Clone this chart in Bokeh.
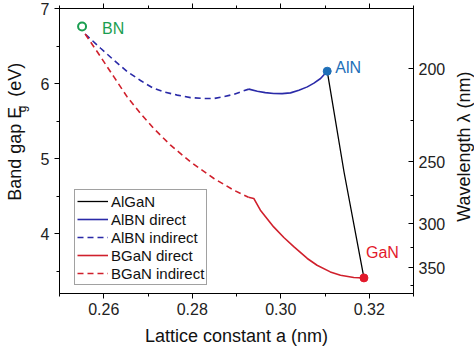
import math
from bokeh.plotting import figure
from bokeh.layouts import row
from bokeh.core.properties import value
from bokeh.models import (Range1d, LinearAxis, FixedTicker, SingleIntervalTicker,
                          NumeralTickFormatter, CustomJSTickFormatter, Legend,
                          LegendItem, Label)
from bokeh.embed import file_html
from bokeh.resources import INLINE

# ---------------- data ----------------
algan_a = [0.3105, 0.3143, 0.3188]
algan_eg = [6.164, 4.82, 3.408]

albn_dir_a = [0.2928, 0.2947, 0.2965, 0.2984, 0.3003, 0.3022, 0.3041, 0.3060, 0.3075, 0.3090, 0.3105]
albn_dir_eg = [5.925, 5.897, 5.878, 5.867, 5.865, 5.875, 5.910, 5.955, 6.005, 6.067, 6.164]

albn_ind_a = [0.2558, 0.2593, 0.2623, 0.2653, 0.2683, 0.2711, 0.2736, 0.2766, 0.2796,
              0.2826, 0.2849, 0.2871, 0.2894, 0.2909, 0.2928]
albn_ind_eg = [6.66, 6.47, 6.31, 6.16, 6.04, 5.94, 5.888, 5.845, 5.812,
               5.800, 5.800, 5.825, 5.855, 5.888, 5.925]

bgan_dir_a = [0.2927, 0.2939, 0.2954, 0.2984, 0.3007, 0.3030, 0.3060, 0.3082, 0.3112, 0.3135, 0.3165, 0.3188]
bgan_dir_eg = [4.484, 4.467, 4.311, 4.088, 3.947, 3.821, 3.667, 3.577, 3.488, 3.444, 3.413, 3.408]

bgan_ind_a = [0.2558, 0.2593, 0.2623, 0.2653, 0.2683, 0.2713, 0.2751, 0.2796, 0.2849, 0.2894, 0.2927]
bgan_ind_eg = [6.66, 6.355, 6.088, 5.821, 5.600, 5.400, 5.177, 4.955, 4.733, 4.577, 4.484]

bn_a, bn_eg = 0.2551, 6.76
aln_a, aln_eg = 0.3105, 6.164
gan_a, gan_eg = 0.3188, 3.408

wl_major = [200, 250, 300, 350]
wl_minor = [175, 225, 275, 325, 375]
HC = 1239.84

FONT = "Liberation Sans"
BLUE = "#2a2aa8"
RED = "#d0202c"
TXT = "#111111"

H = 350
LEFT_W = 33
RIGHT_W = 24
MAIN_W = 474 - LEFT_W - RIGHT_W

# ---------------- main figure ----------------
p = figure(width=MAIN_W, height=H, x_range=Range1d(0.25, 0.33), y_range=Range1d(3.2, 7.0),
           output_backend="svg", toolbar_location=None,
           min_border_left=26, min_border_right=37, min_border_top=8, min_border_bottom=57)
p.grid.visible = False
p.outline_line_color = "black"
p.outline_line_width = 1
p.background_fill_color = "white"
p.border_fill_color = "white"


def style(ax, inward=False):
    ax.axis_line_color = "black"
    ax.major_tick_line_color = "black"
    ax.minor_tick_line_color = "black"
    if inward:
        ax.major_tick_in, ax.major_tick_out = 5, 0
        ax.minor_tick_in, ax.minor_tick_out = 3, 0
    else:
        ax.major_tick_in, ax.major_tick_out = 0, 5
        ax.minor_tick_in, ax.minor_tick_out = 0, 3
    ax.major_label_text_font = FONT
    ax.major_label_text_font_size = "16px"
    ax.major_label_text_color = "#222222"
    ax.axis_label_text_font = FONT
    ax.axis_label_text_font_size = "18px"
    ax.axis_label_text_font_style = "normal"
    ax.axis_label_text_color = TXT


xa = p.xaxis[0]
xa.ticker = SingleIntervalTicker(interval=0.02, num_minor_ticks=2)
xa.formatter = NumeralTickFormatter(format="0.00")
xa.axis_label = "Lattice constant a (nm)"
style(xa)
xa.major_label_standoff = 4
xa.axis_label_standoff = 8

ya = p.yaxis[0]
ya.ticker = SingleIntervalTicker(interval=1, num_minor_ticks=2)
ya.formatter = NumeralTickFormatter(format="0")
style(ya)
ya.major_label_standoff = 5

top = LinearAxis(ticker=SingleIntervalTicker(interval=0.02, num_minor_ticks=2),
                 formatter=CustomJSTickFormatter(code="return ''"))
style(top)
top.major_label_text_font_size = "0px"
top.major_label_standoff = 0
p.add_layout(top, "above")

right = LinearAxis(ticker=FixedTicker(ticks=[HC / w for w in wl_major],
                                      minor_ticks=[HC / w for w in wl_minor]),
                   formatter=CustomJSTickFormatter(code="return (1239.84/tick).toFixed(0)"))
style(right, inward=True)
right.major_label_standoff = 5
p.add_layout(right, "right")

# ---------------- lines ----------------
r_algan = p.line(algan_a, algan_eg, line_color="black", line_width=1.3)
r_albn_d = p.line(albn_dir_a, albn_dir_eg, line_color=BLUE, line_width=1.6)
r_albn_i = p.line(albn_ind_a, albn_ind_eg, line_color=BLUE, line_width=1.6, line_dash="6 4")
r_bgan_d = p.line(bgan_dir_a, bgan_dir_eg, line_color=RED, line_width=1.6)
r_bgan_i = p.line(bgan_ind_a, bgan_ind_eg, line_color=RED, line_width=1.6, line_dash="6 4")

p.scatter([bn_a], [bn_eg], size=8, fill_color="white", line_color="#1a9e50", line_width=2)
p.scatter([aln_a], [aln_eg], size=8, fill_color="#1e6fb8", line_color="#1e6fb8")
p.scatter([gan_a], [gan_eg], size=8, fill_color="#e31a2c", line_color="#e31a2c")

p.add_layout(Label(x=bn_a, y=bn_eg, text="BN", x_offset=20, y_offset=-2, text_baseline="middle",
                   text_font=FONT, text_font_size="16px", text_color="#1a9e50"))
p.add_layout(Label(x=aln_a, y=aln_eg, text="AlN", x_offset=8, y_offset=4, text_baseline="middle",
                   text_font=FONT, text_font_size="16px", text_color="#1e6fb8"))
p.add_layout(Label(x=gan_a, y=gan_eg, text="GaN", x_offset=2, y_offset=25, text_baseline="middle",
                   text_font=FONT, text_font_size="16px", text_color="#e31a2c"))

# ---------------- legend ----------------
legend = Legend(items=[
    LegendItem(label="AlGaN", renderers=[r_algan]),
    LegendItem(label="AlBN direct", renderers=[r_albn_d]),
    LegendItem(label="AlBN indirect", renderers=[r_albn_i]),
    LegendItem(label="BGaN direct", renderers=[r_bgan_d]),
    LegendItem(label="BGaN indirect", renderers=[r_bgan_i]),
], location=(15, 8))
legend.border_line_color = "#444444"
legend.border_line_width = 1
legend.background_fill_alpha = 1
legend.label_text_font = FONT
legend.label_text_font_size = "15px"
legend.label_text_color = TXT
legend.glyph_width = 31
legend.glyph_height = 18
legend.label_height = 18
legend.label_standoff = 3
legend.spacing = 0
legend.padding = 2
legend.margin = 0
p.add_layout(legend)


# ---------------- side strips holding the rotated axis titles ----------------
def strip(w):
    f = figure(width=w, height=H, x_range=Range1d(0, w), y_range=Range1d(0, H),
               output_backend="svg", toolbar_location=None, min_border=0,
               x_axis_location=None, y_axis_location=None)
    f.grid.visible = False
    f.outline_line_color = None
    f.background_fill_color = "white"
    f.border_fill_color = "white"
    return f


left = strip(LEFT_W)
t0 = H - 220          # start of the title text (measured upward)
w_main = 5.226 * 18   # width of "Band gap E" in px
common = dict(angle=math.pi / 2, text_align="left", text_baseline="alphabetic",
              text_font=value(FONT), text_color=TXT)
# the gap after "E" (two no-break spaces) receives the small subscript "g"
left.text(x=[14], y=[t0 - 16.2], text=["Band gap E\u00a0\u00a0(eV)"],
          text_font_size=value("18px"), **common)
left.text(x=[21], y=[t0 + w_main + 10.5 - 12], text=["g"],
          text_font_size=value("12px"), **common)

rstrip = strip(RIGHT_W)
rstrip.text(x=[13], y=[H - 153.5 - 16.2], text=["Wavelength λ (nm)"], angle=math.pi / 2,
            text_align="center", text_baseline="alphabetic", text_font=value(FONT),
            text_font_size=value("18px"), text_color=TXT)

layout = row(left, p, rstrip, spacing=0)
open("out.html", "w").write(file_html(layout, INLINE))
